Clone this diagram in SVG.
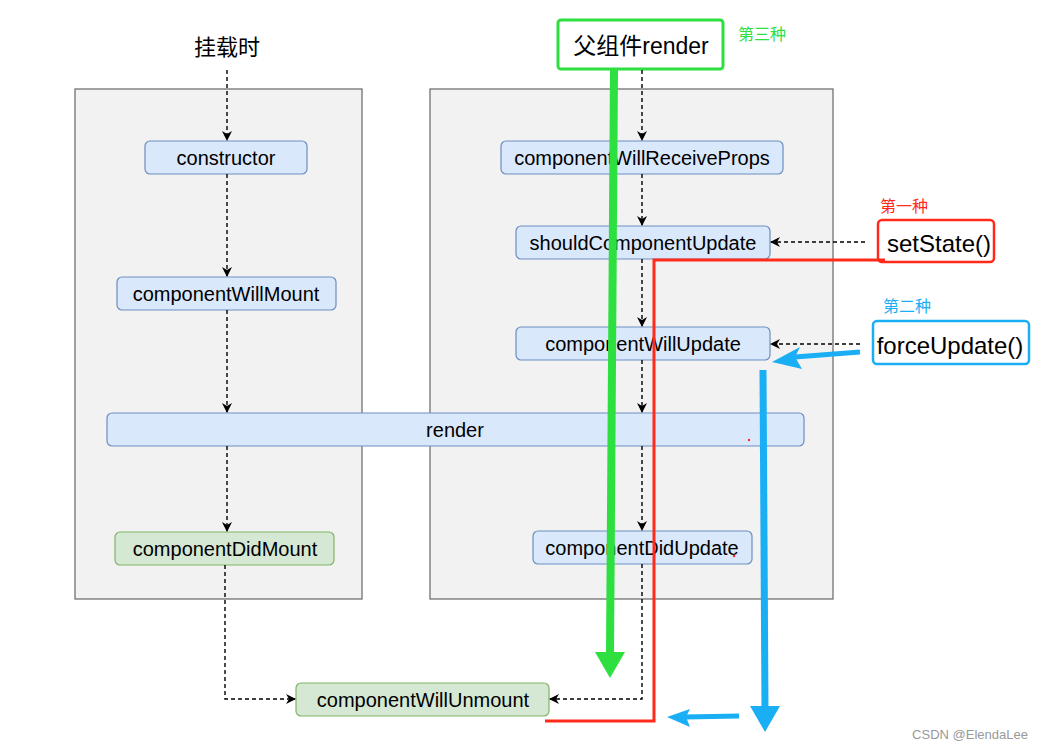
<svg xmlns="http://www.w3.org/2000/svg" width="1047" height="749" viewBox="0 0 1047 749">
<style>
.c{fill:#f2f2f2;stroke:#666;stroke-width:1.2}
.b{fill:#dae8fc;stroke:#6c8ebf;stroke-width:1.2}
.g{fill:#d5e8d4;stroke:#82b366;stroke-width:1.2}
text{font-family:"Liberation Sans",Arial,"Noto Sans CJK SC",sans-serif;text-anchor:middle;dominant-baseline:central}
.t{font-size:20px;fill:#000}
.d{fill:none;stroke:#000;stroke-width:1.4;stroke-dasharray:4 3;marker-end:url(#a)}
</style>
<defs>
<marker id="a" viewBox="0 0 10 10" refX="9" refY="5" markerWidth="10" markerHeight="10" orient="auto" markerUnits="userSpaceOnUse"><path d="M0,0 L10,5 L0,10 L3,5 Z" fill="#000"/></marker>
</defs>
<rect width="1047" height="749" fill="#fff"/>
<rect class="c" x="75" y="89" width="287" height="510"/>
<rect class="c" x="430" y="89" width="403" height="510"/>
<g id="n-mount"><text x="227" y="47" style="font-size:22px">挂载时</text></g>
<g id="n-parent"><rect x="558" y="20" width="165" height="49" rx="3" fill="#fff" stroke="#2de03f" stroke-width="3"/><text x="641" y="46" style="font-size:23px">父组件render</text></g>
<text x="762" y="34" style="font-size:16px;fill:#2de03f">第三种</text>
<g id="n-constructor"><rect class="b" x="145" y="141" width="162" height="33" rx="5"/><text class="t" x="226" y="158">constructor</text></g>
<g id="n-cwm"><rect class="b" x="117" y="277" width="219" height="33" rx="5"/><text class="t" x="226" y="294">componentWillMount</text></g>
<g id="n-render"><rect class="b" x="107" y="413" width="697" height="33" rx="5"/><text class="t" x="455" y="430">render</text></g>
<g id="n-cdm"><rect class="g" x="115" y="532" width="219" height="33" rx="5"/><text class="t" x="225" y="549">componentDidMount</text></g>
<g id="n-cwrp"><rect class="b" x="501" y="141" width="282" height="33" rx="5"/><text class="t" x="642" y="158">componentWillReceiveProps</text></g>
<g id="n-scu"><rect class="b" x="516" y="226" width="254" height="33" rx="5"/><text class="t" x="643" y="243">shouldComponentUpdate</text></g>
<g id="n-cwu"><rect class="b" x="516" y="327" width="254" height="33" rx="5"/><text class="t" x="643" y="344">componentWillUpdate</text></g>
<g id="n-cdu"><rect class="b" x="533" y="531" width="219" height="33" rx="5"/><text class="t" x="642" y="548">componentDidUpdate</text></g>
<g id="n-cwun"><rect class="g" x="296" y="683" width="253" height="33" rx="5"/><text class="t" x="423" y="700">componentWillUnmount</text></g>
<g id="n-setstate"><rect x="878" y="220" width="116" height="42" rx="4" fill="#fff" stroke="#ff2a1a" stroke-width="2.5"/><text x="939" y="243" style="font-size:24px">setState()</text></g>
<text x="904" y="206" style="font-size:16px;fill:#ff2a1a">第一种</text>
<g id="n-force"><rect x="873" y="321" width="156" height="43" rx="4" fill="#fff" stroke="#1aaef5" stroke-width="2.5"/><text x="950" y="345" style="font-size:24px">forceUpdate()</text></g>
<text x="907" y="306" style="font-size:16px;fill:#1aaef5">第二种</text>
<g id="connectors">
<path class="d" d="M227,70 V140"/>
<path class="d" d="M227,174 V276"/>
<path class="d" d="M227,310 V412"/>
<path class="d" d="M227,446 V531"/>
<path class="d" d="M225,565 V699 H295"/>
<path class="d" d="M642,70 V140"/>
<path class="d" d="M642,174 V225"/>
<path class="d" d="M642,259 V326"/>
<path class="d" d="M642,360 V412"/>
<path class="d" d="M642,446 V530"/>
<path class="d" d="M642,564 V699 H550"/>
<path class="d" d="M865,242 H771"/>
<path class="d" d="M860,344 H771"/>
<path d="M614,70 L610,655" stroke="#2de03f" stroke-width="8" fill="none"/>
<path d="M595,652 L625,652 L610,678 Z" fill="#2de03f"/>
<path d="M885,260 H654 V721 H545" stroke="#ff2a1a" stroke-width="3" fill="none"/>
<path d="M860,352 L795,357" stroke="#1aaef5" stroke-width="5" fill="none"/>
<path d="M772,362 L800,347 L795,357 L802,369 Z" fill="#1aaef5"/>
<path d="M763,370 L765,710" stroke="#1aaef5" stroke-width="7" fill="none"/>
<path d="M750,706 L780,706 L765,732 Z" fill="#1aaef5"/>
<path d="M739,716 L685,717" stroke="#1aaef5" stroke-width="5" fill="none"/>
<path d="M667,717 L690,709 L686,717 L690,727 Z" fill="#1aaef5"/>
</g>
<circle cx="749" cy="440" r="1.2" fill="#ff2a1a"/>
<circle cx="734" cy="556" r="1.2" fill="#ff2a1a"/>
<text x="970" y="734" style="font-size:13px;fill:#999">CSDN @ElendaLee</text>
</svg>
